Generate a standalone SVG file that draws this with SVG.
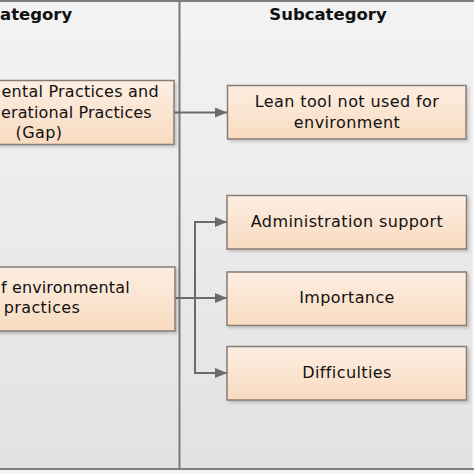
<svg xmlns="http://www.w3.org/2000/svg" width="474" height="474" viewBox="0 0 474 474">
<defs>
<linearGradient id="bg" x1="0" y1="0" x2="0" y2="1">
<stop offset="0" stop-color="#f3f3f3"/>
<stop offset="1" stop-color="#e2e2e2"/>
</linearGradient>
<linearGradient id="bx" x1="0" y1="0" x2="0" y2="1">
<stop offset="0" stop-color="#fdeee2"/>
<stop offset="1" stop-color="#f8dbc0"/>
</linearGradient>
<filter id="sh" x="-10%" y="-20%" width="120%" height="150%">
<feDropShadow dx="2" dy="2" stdDeviation="1.5" flood-color="#000" flood-opacity="0.18"/>
</filter>
<marker id="ah" viewBox="0 0 12 10" refX="12" refY="5" markerWidth="12" markerHeight="10" markerUnits="userSpaceOnUse" orient="auto">
<path d="M0,0 L12,5 L0,10 Z" fill="#6b6b6b"/>
</marker>
</defs>
<style>
.box{fill:url(#bx);stroke:#877c76;stroke-width:1.5;filter:url(#sh)}
.t{font-family:"DejaVu Sans",Verdana,sans-serif;font-size:16px;fill:#111;letter-spacing:0.4px}
.h{font-family:"DejaVu Sans",Verdana,sans-serif;font-size:16.5px;font-weight:bold;fill:#111}
.c{fill:none;stroke:#6b6b6b;stroke-width:2}
</style>
<rect x="0" y="0" width="474" height="474" fill="#f4f4f4"/>
<rect x="0" y="1" width="472" height="468" fill="url(#bg)"/>
<line x1="0" y1="1" x2="474" y2="1" stroke="#808080" stroke-width="2"/>
<line x1="0" y1="469" x2="474" y2="469" stroke="#808080" stroke-width="2"/>
<line x1="179.5" y1="0" x2="179.5" y2="469" stroke="#7a7a7a" stroke-width="2"/>
<g id="header-category"><text class="h" x="0" y="20">ategory</text></g>
<g id="header-subcategory"><text class="h" x="328" y="20" text-anchor="middle">Subcategory</text></g>
<g id="connectors">
<line class="c" x1="174" y1="112.5" x2="227" y2="112.5" marker-end="url(#ah)"/>
<line class="c" x1="175" y1="298" x2="227" y2="298" marker-end="url(#ah)"/>
<polyline class="c" points="195,298 195,222 227,222" marker-end="url(#ah)"/>
<polyline class="c" points="195,298 195,373 227,373" marker-end="url(#ah)"/>
</g>
<g id="node-gap">
<rect class="box" x="-95" y="80.5" width="269" height="64"/>
<text class="t" x="1.5" y="97" textLength="157.5" lengthAdjust="spacing">ental Practices and</text>
<text class="t" x="1" y="118" textLength="151" lengthAdjust="spacing">erational Practices</text>
<text class="t" x="39" y="138" text-anchor="middle">(Gap)</text>
</g>
<g id="node-env">
<rect class="box" x="-95" y="267" width="270" height="64"/>
<text class="t" x="1" y="293" textLength="129" lengthAdjust="spacing">f environmental</text>
<text class="t" x="42" y="313" text-anchor="middle">practices</text>
</g>
<g id="node-lean">
<rect class="box" x="227.5" y="85.5" width="238.5" height="53.5"/>
<text class="t" x="347" y="107" text-anchor="middle">Lean tool not used for</text>
<text class="t" x="347" y="128" text-anchor="middle">environment</text>
</g>
<g id="node-admin">
<rect class="box" x="227" y="195.5" width="239.5" height="53.5"/>
<text class="t" x="347" y="227" text-anchor="middle">Administration support</text>
</g>
<g id="node-importance">
<rect class="box" x="227" y="272" width="239.5" height="53.5"/>
<text class="t" x="347" y="303" text-anchor="middle">Importance</text>
</g>
<g id="node-difficulties">
<rect class="box" x="227" y="346.5" width="239.5" height="53.5"/>
<text class="t" x="347" y="378" text-anchor="middle">Difficulties</text>
</g>
</svg>
